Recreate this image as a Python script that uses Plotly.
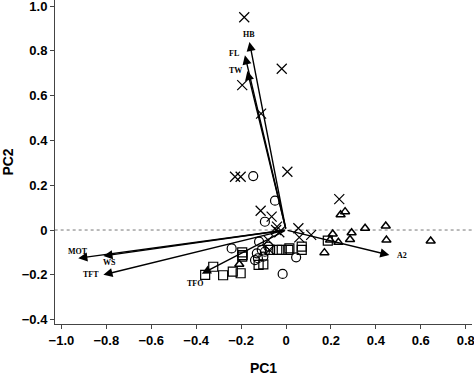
import plotly.graph_objects as go

# ---- sample scores (PC1, PC2) by group ----
cross_x = [-0.186, -0.019, -0.195, -0.111, -0.227, -0.202, 0.006, -0.113, -0.064, -0.040,
           -0.044, 0.055, 0.059, 0.112, -0.074, -0.079, 0.237, -0.030]
cross_y = [0.950, 0.720, 0.647, 0.520, 0.238, 0.238, 0.260, 0.086, 0.060, 0.015,
           0.000, 0.008, -0.033, -0.022, -0.089, -0.045, 0.138, -0.010]

circle_x = [-0.146, -0.049, -0.094, -0.120, -0.242, 0.045, -0.015, -0.130, -0.108,
            -0.138, -0.079, -0.101, -0.094, -0.125]
circle_y = [0.241, 0.131, 0.037, -0.052, -0.082, -0.122, -0.196, -0.104, -0.089,
            -0.134, -0.074, -0.119, -0.097, -0.126]

square_x = [-0.324, -0.360, -0.280, -0.237, -0.202, -0.195, -0.195, -0.122, -0.101,
            -0.039, -0.019, 0.010, -0.071, 0.070, 0.070, 0.015, 0.186, -0.193]
square_y = [-0.164, -0.200, -0.202, -0.186, -0.193, -0.119, -0.100, -0.156, -0.153,
            -0.089, -0.089, -0.089, -0.089, -0.074, -0.089, -0.082, -0.047, -0.112]

tri_x = [0.243, 0.263, 0.352, 0.444, 0.208, 0.196, 0.233, 0.292, 0.285, 0.447,
         0.171, 0.644, -0.208]
tri_y = [0.068, 0.082, 0.008, 0.018, -0.018, -0.045, -0.055, -0.012, -0.042, -0.045,
         -0.101, -0.049, -0.153]

# ---- variable loadings (arrow tips) ----
var_names = ["HB", "FL", "TW", "MOT", "WS", "TFT", "TFO", "A2"]
var_x = [-0.163, -0.183, -0.172, -0.925, -0.813, -0.813, -0.375, 0.460]
var_y = [0.840, 0.780, 0.710, -0.126, -0.116, -0.200, -0.195, -0.112]
lab_x = [-0.165, -0.232, -0.227, -0.925, -0.784, -0.868, -0.405, 0.516]
lab_y = [0.872, 0.786, 0.712, -0.098, -0.147, -0.200, -0.237, -0.112]

# ---- axis ticks ----
xtick_vals = [-1.0, -0.8, -0.6, -0.4, -0.2, 0, 0.2, 0.4, 0.6, 0.8]
xtick_text = ["−1.0", "−0.8", "−0.6", "−0.4", "−0.2", "0", "0.2", "0.4", "0.6", "0.8"]
ytick_vals = [-0.4, -0.2, 0, 0.2, 0.4, 0.6, 0.8, 1.0]
ytick_text = ["−0.4", "−0.2", "0", "0.2", "0.4", "0.6", "0.8", "1.0"]

fig = go.Figure()

fig.add_trace(go.Scatter(x=[-1.03, 0.83], y=[0, 0], mode="lines",
                         line=dict(color="#777777", width=1, dash="dot"),
                         hoverinfo="skip", showlegend=False))

fig.add_trace(go.Scatter(x=circle_x, y=circle_y, mode="markers", showlegend=False,
                         marker=dict(symbol="circle-open", size=9, color="black",
                                     line=dict(color="black", width=1.2))))
fig.add_trace(go.Scatter(x=square_x, y=square_y, mode="markers", showlegend=False,
                         marker=dict(symbol="square-open", size=9, color="black",
                                     line=dict(color="black", width=1.2))))
fig.add_trace(go.Scatter(x=tri_x, y=tri_y, mode="markers", showlegend=False,
                         marker=dict(symbol="triangle-up-open", size=8, color="black",
                                     line=dict(color="black", width=1.5))))
fig.add_trace(go.Scatter(x=cross_x, y=cross_y, mode="markers", showlegend=False,
                         marker=dict(symbol="x-thin-open", size=10, color="black",
                                     line=dict(color="black", width=1.2))))

for name, vx, vy, lx, ly in zip(var_names, var_x, var_y, lab_x, lab_y):
    fig.add_annotation(x=vx, y=vy, ax=0, ay=0, xref="x", yref="y", axref="x", ayref="y",
                       text="", showarrow=True, arrowhead=2, arrowsize=1.3,
                       arrowwidth=1.4, arrowcolor="black", standoff=0, startstandoff=0)
    fig.add_annotation(x=lx, y=ly, xref="x", yref="y", text=name, showarrow=False,
                       font=dict(family="Liberation Serif", size=8, color="black",
                                 weight="bold"))

axfont = dict(family="Liberation Sans", size=13, color="black", weight="bold")
fig.update_xaxes(range=[-1.0285, 0.828], tickvals=xtick_vals, ticktext=xtick_text,
                 showline=True, linecolor="#444444", linewidth=1, ticks="outside",
                 ticklen=4, tickcolor="#444444", showgrid=False, zeroline=False,
                 tickfont=axfont, ticklabeloverflow="allow",
                 title=dict(text="PC1", font=dict(family="Liberation Sans", size=14,
                                                  color="black", weight="bold"),
                            standoff=16))
fig.update_yaxes(range=[-0.4196, 1.027], tickvals=ytick_vals, ticktext=ytick_text,
                 showline=True, linecolor="#444444", linewidth=1, ticks="outside",
                 ticklen=4, tickcolor="#444444", showgrid=False, zeroline=False,
                 tickfont=axfont, ticklabeloverflow="allow",
                 title=dict(text="PC2", font=dict(family="Liberation Sans", size=14,
                                                  color="black", weight="bold"),
                            standoff=4))
fig.update_layout(width=474, height=378, margin=dict(l=55, r=2, t=0, b=54),
                  plot_bgcolor="white", paper_bgcolor="white")

fig.write_html("out.html")
